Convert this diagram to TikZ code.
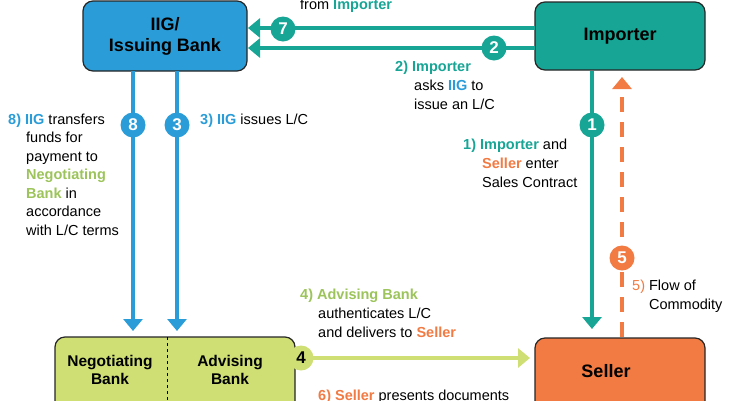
\documentclass[tikz,border=0pt]{standalone}
\usepackage{fontspec}
\setmainfont{Liberation Sans}
\usetikzlibrary{arrows.meta}
\definecolor{teal1}{HTML}{17A596}
\definecolor{blue1}{HTML}{2A9DD8}
\definecolor{grn}{HTML}{CFDF74}
\definecolor{grnt}{HTML}{9CC45A}
\definecolor{org}{HTML}{F27B43}
\begin{document}
\begin{tikzpicture}[x=1pt,y=-1pt,
 box/.style={draw=black!85,line width=1.2pt,rounded corners=10pt,font=\fontsize{18}{21}\selectfont\bfseries,align=center,inner sep=0},
 num/.style={circle,fill=#1,text=white,font=\fontsize{17}{17}\selectfont\bfseries,minimum size=25pt,inner sep=0},
 arr/.style={line width=4pt,draw=#1,-{Triangle[length=12pt,width=19pt]}},
 lab/.style={font=\fontsize{14.5}{18.5}\selectfont,align=left,anchor=north west,inner sep=0}]
\clip (0,0) rectangle (744,400);
\fill[white] (0,0) rectangle (744,400);
\node[box,fill=blue1,minimum width=164pt,minimum height=70pt] (iig) at (165,36) {IIG/\\Issuing Bank};
\node[box,fill=teal1,minimum width=170pt,minimum height=68pt] (imp) at (620,36) {Importer};
\node[box,fill=grn,minimum width=240pt,minimum height=80pt] (nb) at (175,377) {};
\node[box,fill=org,minimum width=170pt,minimum height=80pt] (sel) at (620,378) {};
\node[font=\fontsize{18}{21}\selectfont\bfseries] (selt) at (606,371) {Seller};
\node[font=\fontsize{15.5}{18}\selectfont\bfseries,align=center] (neg) at (110,370) {Negotiating\\Bank};
\node[font=\fontsize{15.5}{18}\selectfont\bfseries,align=center] (adv) at (230,370) {Advising\\Bank};
\draw[dashed,line width=0.8pt] (167,337) -- (167,400);
% arrows
\coordinate (a7s) at (535,28); \coordinate (a7e) at (248,28);
\draw[arr=teal1] (a7s) -- (a7e);
\coordinate (a2s) at (535,48); \coordinate (a2e) at (248,48);
\draw[arr=teal1] (a2s) -- (a2e);
\coordinate (a8s) at (133,71); \coordinate (a8e) at (133,331);
\draw[arr=blue1] (a8s) -- (a8e);
\coordinate (a3s) at (177,71); \coordinate (a3e) at (177,331);
\draw[arr=blue1] (a3s) -- (a3e);
\coordinate (a1s) at (592,71); \coordinate (a1e) at (592,329);
\draw[arr=teal1] (a1s) -- (a1e);
\coordinate (a5s) at (622,337); \coordinate (a5e) at (622,77);
\draw[line width=4pt,draw=org,dash pattern=on 15pt off 10pt,-{Triangle[length=12pt,width=19pt]}] (a5s) -- (a5e);
\coordinate (a4s) at (295,358); \coordinate (a4e) at (530,358);
\draw[arr=grn] (a4s) -- (a4e);
\node[num=teal1] (n7) at (283,29) {7};
\node[num=teal1] (n2) at (494,48) {2};
\node[num=blue1] (n8) at (133,125) {8};
\node[num=blue1] (n3) at (177,125) {3};
\node[num=teal1] (n1) at (592,125) {1};
\node[num=org] (n5) at (622,258) {5};
\node[num=grn,text=black] (n4) at (301,358) {4};
% labels
\node[lab] (l7) at (300,-1) {from \textcolor{teal1}{\bfseries Importer}};
\node[lab] (l2a) at (395,61) {\textcolor{teal1}{\bfseries 2) Importer}};
\node[lab] (l2) at (414,80) {asks \textcolor{blue1}{\bfseries IIG} to\\issue an L/C};
\node[lab] (l3) at (200,114) {\textcolor{blue1}{\bfseries 3) IIG} issues L/C};
\node[lab] (l8a) at (8,114) {\textcolor{blue1}{\bfseries 8) IIG} transfers};
\node[lab] (l8) at (26,132) {funds for\\payment to\\\textcolor{grnt}{\bfseries Negotiating}\\\textcolor{grnt}{\bfseries Bank} in\\accordance\\with L/C terms};
\node[lab] (l1a) at (463,139) {\textcolor{teal1}{\bfseries 1) Importer} and};
\node[lab] (l1) at (482,158) {\textcolor{org}{\bfseries Seller} enter\\Sales Contract};
\node[lab] (l5) at (632,280) {\textcolor{org}{5)} Flow of\\\phantom{5) }Commodity};
\node[lab] (l4a) at (300,289) {\textcolor{grnt}{\bfseries 4) Advising Bank}};
\node[lab] (l4) at (318,308) {authenticates L/C\\and delivers to \textcolor{org}{\bfseries Seller}};
\node[lab] (l6) at (318,390) {\textcolor{org}{\bfseries 6) Seller} presents documents};
\end{tikzpicture}
\end{document}
